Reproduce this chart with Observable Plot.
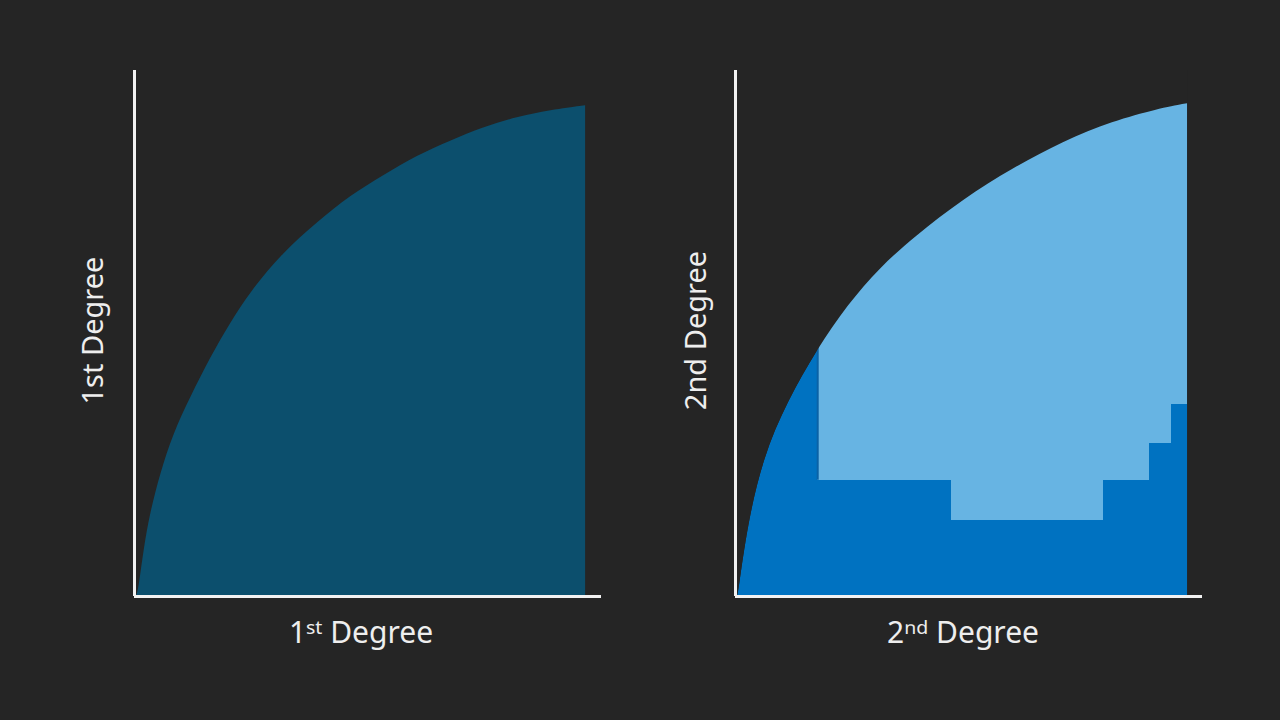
<!DOCTYPE html>
<html>
<head>
<meta charset="utf-8">
<script src="https://cdn.jsdelivr.net/npm/d3@7"></script>
<script src="https://cdn.jsdelivr.net/npm/@observablehq/plot@0.6"></script>
<style>
  html, body { margin: 0; padding: 0; background: #252525; width: 1280px; height: 720px; overflow: hidden; }
  #wrap { position: relative; width: 1280px; height: 720px; }
  #left, #right { position: absolute; top: 0; }
  #left { left: 0; }
  #right { left: 640px; }
</style>
</head>
<body>
<div id="wrap"><div id="left"></div><div id="right"></div></div>
<script>
// ---- data (axis units 0..100) ----
const leftCurveX  = [0.4, 0.9, 2.0, 3.4, 5.6, 8.4, 12.0, 16.3, 20.6, 24.8, 31.9, 39.2, 46.3, 53.3, 60.6, 67.7, 74.7, 82.0, 89.1, 96.6];
const leftCurveY  = [0,   1.1, 8.7, 15.8, 23.4, 31.0, 37.8, 45.4, 52.0, 57.8, 65.4, 71.1, 76.2, 80.0, 83.8, 86.6, 89.2, 91.1, 92.4, 93.3];

const rightCurveX = [0.4, 0.7, 2.6, 6.0, 11.1, 17.6, 24.0, 31.0, 38.5, 48.8, 59.5, 70.2, 80.9, 90.4, 96.8];
const rightCurveY = [0,   0.8, 13.3, 26.4, 36.9, 47.0, 55.3, 62.5, 68.4, 75.5, 81.4, 86.5, 90.3, 92.6, 93.7];

// 2nd-degree share: follows the curve up to splitX, then steps
const splitX   = 17.6;
const stepX    = [17.6, 46.3, 78.8, 88.7, 93.4, 96.8];
const stepTop  = [22.1, 14.4, 22.1, 29.1, 36.5, 36.5];

const yLabels = ["1st Degree", "2nd Degree"];
const xLabels = ["1\u02E2\u1D57 Degree", "2\u207F\u1D48 Degree"];

// ---- build tables ----
const leftCurve  = leftCurveX.map((x, i) => ({x, y: leftCurveY[i]}));
const rightCurve = rightCurveX.map((x, i) => ({x, y: rightCurveY[i]}));
const steps      = stepX.map((x, i) => ({x, y: stepTop[i]}));
const curveEndX  = rightCurveX[rightCurveX.length - 1];
const curveTop   = Math.max(...rightCurveY);

const BG = "#252525";
const FONT = "'Noto Sans', 'Open Sans', sans-serif";
const TXT = "#eeeeee";
const CURVE = "basis";
const DARK = "#0072c1", LIGHT = "#67b4e3";

function axesMarks() {
  return [
    Plot.ruleX([0], {y1: 0, y2: 100, stroke: "#f2f2f2", strokeWidth: 3}),
    Plot.ruleY([0], {x1: 0, x2: 100, stroke: "#f2f2f2", strokeWidth: 3})
  ];
}

function base(marginLeft, marginRight, marks) {
  return Plot.plot({
    width: 640,
    height: 720,
    marginLeft, marginRight,
    marginTop: 70,
    marginBottom: 124,
    x: {domain: [0, 100], axis: null},
    y: {domain: [0, 100], axis: null},
    style: {background: "transparent", fontFamily: FONT, overflow: "visible"},
    marks
  });
}

const left = base(134, 39, [
  Plot.areaY(leftCurve, {x: "x", y: "y", fill: "#0c4f6d", curve: CURVE}),
  ...axesMarks(),
  Plot.text([yLabels[0]], {frameAnchor: "left", textAnchor: "middle", rotate: -90, dx: -41, dy: -3, fontSize: 29, fill: TXT}),
  Plot.text([xLabels[0]], {frameAnchor: "bottom", textAnchor: "middle", dx: -7, dy: 46, fontSize: 30, fill: TXT})
]);

const right = base(95, 78, [
  // whole region under the curve in the 2nd-degree blue
  Plot.areaY(rightCurve, {x: "x", y: "y", fill: DARK, curve: CURVE}),
  // lighter block from the split to the end of the curve
  Plot.rect([0], {x1: splitX, x2: curveEndX, y1: 0, y2: curveTop, fill: LIGHT, shapeRendering: "crispEdges"}),
  // stepped 2nd-degree share on top
  Plot.areaY(steps, {x: "x", y: "y", fill: DARK, curve: "step-after", shapeRendering: "crispEdges"}),
  Plot.ruleX([splitX], {y1: stepTop[0], y2: 70, stroke: "#0a62a6", strokeWidth: 2}),
  // trim everything above the curve back to the page background
  Plot.areaY(rightCurve, {x: "x", y1: "y", y2: () => 100, fill: BG, curve: CURVE}),
  ...axesMarks(),
  Plot.text([yLabels[1]], {frameAnchor: "left", textAnchor: "middle", rotate: -90, dx: -39, dy: -3, fontSize: 29, fill: TXT}),
  Plot.text([xLabels[1]], {frameAnchor: "bottom", textAnchor: "middle", dx: -6, dy: 46, fontSize: 30, fill: TXT})
]);

document.getElementById("left").appendChild(left);
document.getElementById("right").appendChild(right);
</script>
</body>
</html>
